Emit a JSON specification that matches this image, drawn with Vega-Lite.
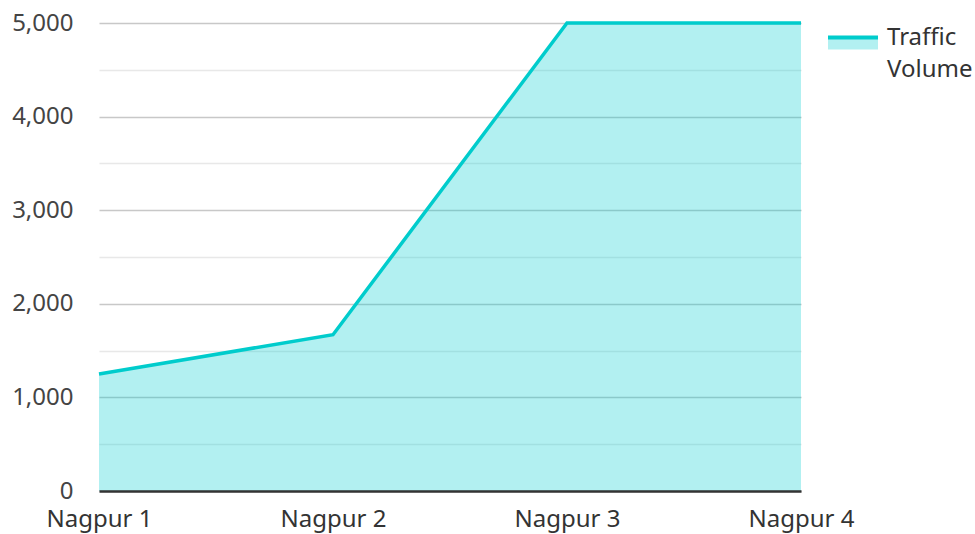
{
  "$schema": "https://vega.github.io/schema/vega-lite/v6.json",
  "width": 702,
  "height": 468,
  "autosize": {"type": "none"},
  "padding": {"left": 99, "top": 23, "right": 174, "bottom": 43},
  "background": "white",
  "config": {
    "font": "Noto Sans",
    "view": {"stroke": null}
  },
  "data": {
    "values": [
      {"location": "Nagpur 1", "volume": 1250, "series": "Traffic Volume"},
      {"location": "Nagpur 2", "volume": 1670, "series": "Traffic Volume"},
      {"location": "Nagpur 3", "volume": 5000, "series": "Traffic Volume"},
      {"location": "Nagpur 4", "volume": 5000, "series": "Traffic Volume"}
    ]
  },
  "encoding": {
    "x": {
      "field": "location",
      "type": "ordinal",
      "scale": {"type": "point", "padding": 0},
      "axis": {
        "title": null,
        "labelAngle": 0,
        "labelFontSize": 24,
        "labelColor": "#333333",
        "labelPadding": 16,
        "ticks": false,
        "domainColor": "#333333",
        "domainWidth": 2.5,
        "grid": false,
        "zindex": 1
      }
    },
    "y": {
      "field": "volume",
      "type": "quantitative",
      "scale": {"domain": [0, 5000], "nice": false},
      "axis": {
        "title": null,
        "values": [0, 500, 1000, 1500, 2000, 2500, 3000, 3500, 4000, 4500, 5000],
        "labelExpr": "datum.value % 1000 === 0 ? format(datum.value, ',') : ''",
        "labelFontSize": 24,
        "labelColor": "#444444",
        "labelPadding": 26,
        "ticks": false,
        "domain": false,
        "grid": true,
        "gridColor": {"condition": {"test": "datum.value % 1000 === 0", "value": "#c8c8c8"}, "value": "#e8e8e8"},
        "gridWidth": 1.5
      }
    }
  },
  "layer": [
    {
      "mark": {"type": "area", "fillOpacity": 0.3},
      "encoding": {
        "fill": {
          "field": "series",
          "type": "nominal",
          "scale": {"range": ["#00ced1"]},
          "legend": {
            "title": null,
            "orient": "none",
            "legendX": 727,
            "legendY": -12.5,
            "symbolType": "M-1,0H1V0.48H-1Z",
            "symbolSize": 2500,
            "labelFontSize": 24,
            "labelColor": "#333333",
            "labelExpr": "split(datum.label, ' ')",
            "labelOffset": 7,
            "padding": 0,
            "encode": {
              "symbols": {
                "update": {
                  "fill": {"value": "#00ced1"},
                  "fillOpacity": {"value": 0.3},
                  "opacity": {"value": 1},
                  "stroke": {"value": "#00cccc"},
                  "strokeWidth": {"value": 4},
                  "strokeDash": {"value": [50, 500]}
                }
              },
              "labels": {
                "update": {
                  "lineHeight": {"value": 32}
                }
              }
            }
          }
        }
      }
    },
    {
      "mark": {"type": "line", "strokeWidth": 3.5},
      "encoding": {
        "stroke": {
          "field": "series",
          "type": "nominal",
          "scale": {"range": ["#00cccc"]},
          "legend": null
        }
      }
    }
  ]
}
